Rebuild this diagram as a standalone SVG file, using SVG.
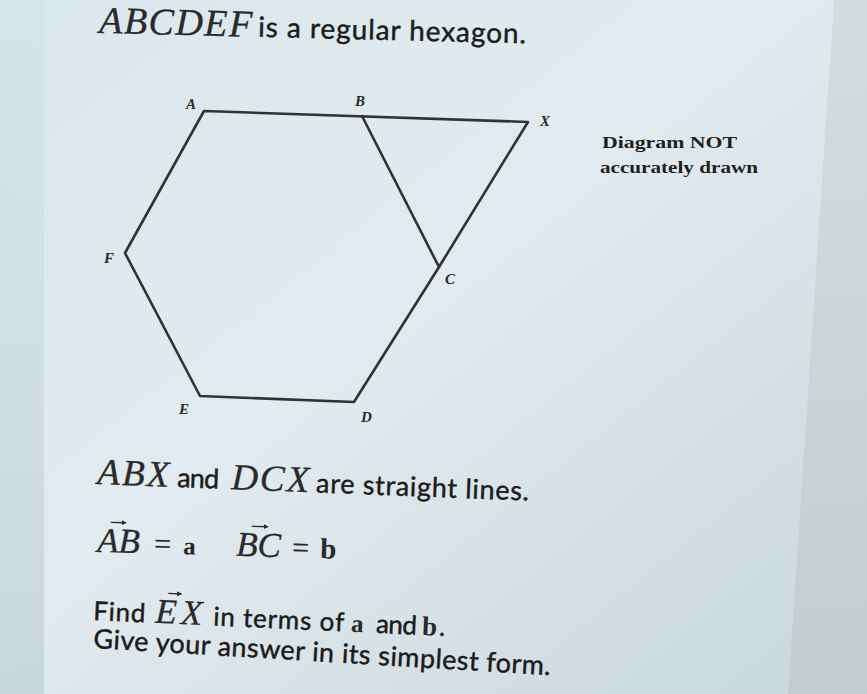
<svg xmlns="http://www.w3.org/2000/svg" width="867" height="694" viewBox="0 0 867 694">
<defs>
<linearGradient id="paper" x1="0" y1="0" x2="1" y2="1">
<stop offset="0" stop-color="#dae7ed"/>
<stop offset="0.45" stop-color="#e2ebef"/>
<stop offset="1" stop-color="#c8d6dc"/>
</linearGradient>
<linearGradient id="rightp" x1="0" y1="0" x2="0" y2="1">
<stop offset="0" stop-color="#d6dde0"/>
<stop offset="1" stop-color="#c4ccd0"/>
</linearGradient>
<linearGradient id="leftp" x1="0" y1="0" x2="0" y2="1">
<stop offset="0" stop-color="#d3e2e8" stop-opacity="0.5"/>
<stop offset="1" stop-color="#b9cbd2" stop-opacity="0.6"/>
</linearGradient>
<marker id="vec" viewBox="0 0 6 6" refX="5" refY="3" markerWidth="5" markerHeight="5" orient="auto" markerUnits="userSpaceOnUse">
<path d="M0,0 L6,3 L0,6 z" fill="#2a2a2a"/>
</marker>
<style>
.body{font-family:Lato,"Open Sans","Liberation Sans",sans-serif;fill:#1c1c1c;stroke:#1c1c1c;stroke-width:0.45}
.mi{font-family:"Liberation Serif","DejaVu Serif",serif;font-style:italic;fill:#2a2a2a;stroke:#2a2a2a;stroke-width:0.3}
.bb{font-family:"Liberation Serif","DejaVu Serif",serif;font-weight:bold;fill:#2a2a2a}
.lbl{font-family:"Liberation Serif","DejaVu Serif",serif;font-style:italic;font-weight:bold;font-size:15px;fill:#2a2a2a}
.note{font-family:"Liberation Serif","DejaVu Serif",serif;font-weight:bold;font-size:17px;fill:#1f1f1f}
.edge{fill:none;stroke:#333;stroke-width:2.6;stroke-linejoin:round;stroke-linecap:round}
.vec{stroke:#2a2a2a;stroke-width:1.3;marker-end:url(#vec)}
</style>
</defs>
<rect width="867" height="694" fill="url(#paper)"/>
<rect x="0" y="0" width="44" height="694" fill="url(#leftp)"/>
<polygon points="834,0 867,0 867,694 788,694" fill="url(#rightp)"/>

<g id="title" transform="rotate(1.4 100 33)">
<text class="mi" x="99" y="33" font-size="38" textLength="153">ABCDEF</text>
<text class="body" x="258" y="33" font-size="28" textLength="268">is a regular hexagon.</text>
</g>

<g id="connectors">
<path class="edge" d="M204,111 L528,122 L439,267 L354,402 L200,396 L125,253 Z"/>
<path class="edge" d="M362,116 L439,267" stroke="#1a1a1a"/>
</g>

<g id="node-A"><text class="lbl" x="186" y="109">A</text></g>
<g id="node-B"><text class="lbl" x="355" y="106">B</text></g>
<g id="node-X"><text class="lbl" x="540" y="126">X</text></g>
<g id="node-C"><text class="lbl" x="445" y="284" font-style="normal" font-weight="normal">C</text></g>
<g id="node-D"><text class="lbl" x="361" y="422">D</text></g>
<g id="node-E"><text class="lbl" x="179" y="414">E</text></g>
<g id="node-F"><text class="lbl" x="104" y="263">F</text></g>

<g id="note">
<text class="note" x="602" y="148" textLength="135" lengthAdjust="spacingAndGlyphs">Diagram NOT</text>
<text class="note" x="600" y="173" textLength="158" lengthAdjust="spacingAndGlyphs">accurately drawn</text>
</g>

<g id="line2" transform="rotate(2.2 97 484)">
<text class="mi" x="97" y="484" font-size="37" textLength="72">ABX</text>
<text class="body" x="177" y="484" font-size="27" textLength="42">and</text>
<text class="mi" x="231" y="484" font-size="37" textLength="78">DCX</text>
<text class="body" x="316" y="484" font-size="27" textLength="213">are straight lines.</text>
</g>

<g id="line3" transform="rotate(1.6 98 552)">
<text class="mi" x="97" y="552" font-size="35">AB</text>
<line class="vec" x1="110" y1="522" x2="125" y2="522"/>
<text class="mi" x="152" y="552" font-size="30" font-style="normal">=</text>
<text class="bb" x="183" y="552" font-size="25">a</text>
<text class="mi" x="236" y="552" font-size="35">BC</text>
<line class="vec" x1="251" y1="522" x2="267" y2="522"/>
<text class="mi" x="290" y="552" font-size="30" font-style="normal">=</text>
<text class="bb" x="320" y="552" font-size="29">b</text>
</g>

<g id="line4" transform="rotate(2.6 93 620)">
<text class="body" x="93" y="620" font-size="26" textLength="52">Find</text>
<text class="mi" x="155" y="620" font-size="35" textLength="47">EX</text>
<line class="vec" x1="167" y1="590" x2="180" y2="590"/>
<text class="body" x="213" y="620" font-size="26" textLength="131">in terms of</text>
<text class="bb" x="351" y="620" font-size="25">a</text>
<text class="body" x="376" y="620" font-size="26" textLength="41">and</text>
<text class="bb" x="422" y="620" font-size="27">b</text>
<text class="body" x="439" y="620" font-size="26">.</text>
</g>

<g id="line5" transform="rotate(3.4 93 648)">
<text class="body" x="93" y="648" font-size="27" textLength="458">Give your answer in its simplest form.</text>
</g>
</svg>
